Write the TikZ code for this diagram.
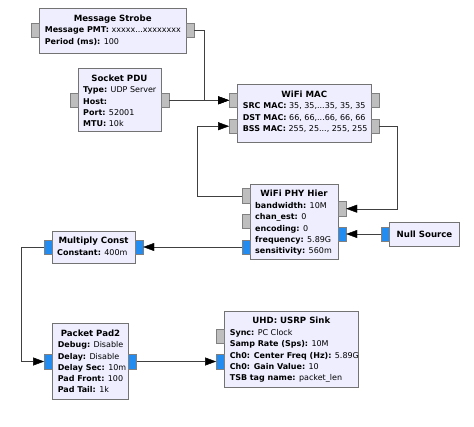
\documentclass[tikz,border=0pt]{standalone}
\usepackage{fontspec}
\setmainfont{DejaVu Sans}
\usetikzlibrary{arrows.meta,calc}
\definecolor{blockbg}{RGB}{238,238,255}
\definecolor{portgray}{RGB}{190,190,190}
\definecolor{portblue}{RGB}{35,140,240}
\tikzset{
	blk/.style={draw=black!55, fill=blockbg, anchor=north west, inner sep=0},
	port/.style={draw=black!50, fill=portgray, minimum width=8pt, minimum height=14.5pt, inner sep=0},
	bport/.style={port, fill=portblue},
	ttl/.style={font=\fontsize{8.6}{10}\selectfont\bfseries, anchor=base, inner sep=0},
	prm/.style={font=\fontsize{8}{10}\selectfont, anchor=base west, inner sep=0},
	wire/.style={draw=black!75, -{Triangle[length=11pt,width=8pt,color=black]}}
}
\def\tdots{...}
\def\blocktext(#1)#2#3{%
	\node[ttl] (#1t) at ($(#1.north)+(0,12.8)$) {#2};
	\foreach \ln [count=\i] in {#3}
		\node[prm] (#1p\i) at ($(#1.north west)+(5.3,{13.1+11.3*\i})$) {\ln};
}

\begin{document}
\begin{tikzpicture}[x=1pt, y=-1pt]
		%%%%% START %%%%%
		\useasboundingbox (0,0) rectangle (474,426);
		
		\node[blk, minimum width=146.4pt, minimum height=44.4pt] (strobe) at (39.3,8.3) {};
		\blocktext(strobe){Message Strobe}{{\textbf{Message PMT:} xxxxx\tdots xxxxxxxx},{\textbf{Period (ms):} 100}}
		
		\node[blk, minimum width=83pt, minimum height=62.7pt] (socket) at (77.7,68.3) {};
		\blocktext(socket){Socket PDU}{{\textbf{Type:} UDP Server},{\textbf{Host:}},{\textbf{Port:} 52001},{\textbf{MTU:} 10k}}
		
		\node[blk, minimum width=133.4pt, minimum height=57.4pt] (mac) at (237.3,84.3) {};
		\blocktext(mac){WiFi MAC}{{\textbf{SRC MAC:} 35, 35,\tdots 35, 35, 35},{\textbf{DST MAC:} 66, 66,\tdots 66, 66, 66},{\textbf{BSS MAC:} 255, 25\tdots, 255, 255}}
		
		\node[blk, minimum width=88.3pt, minimum height=75.3pt] (phy) at (249.7,184) {};
		\blocktext(phy){WiFi PHY Hier}{{\textbf{bandwidth:} 10M},{\textbf{chan\_est:} 0},{\textbf{encoding:} 0},{\textbf{frequency:} 5.89G},{\textbf{sensitivity:} 560m}}
		
		\node[blk, minimum width=70pt, minimum height=24.3pt] (null) at (389.3,221.7) {};
		\node[ttl] (nullt) at ($(null.center)+(0,3.1)$) {Null Source};
		
		\node[blk, minimum width=83.3pt, minimum height=32.3pt] (mult) at (51.7,231) {};
		\blocktext(mult){Multiply Const}{{\textbf{Constant:} 400m}}
		
		\node[blk, minimum width=76pt, minimum height=76pt] (pad) at (52.3,323.3) {};
		\blocktext(pad){Packet Pad2}{{\textbf{Debug:} Disable},{\textbf{Delay:} Disable},{\textbf{Delay Sec:} 10m},{\textbf{Pad Front:} 100},{\textbf{Pad Tail:} 1k}}
		
		\node[blk, minimum width=133.7pt, minimum height=76.3pt] (uhd) at (224.3,311) {};
		\blocktext(uhd){UHD: USRP Sink}{{\textbf{Sync:} PC Clock},{\textbf{Samp Rate (Sps):} 10M},{\textbf{Ch0: Center Freq (Hz):} 5.89G},{\textbf{Ch0: Gain Value:} 10},{\textbf{TSB tag name:} packet\_len}}
		
		% ports
		\node[port] (strobein) at (35.3,30) {};
		\node[port] (strobeout) at (189.7,30.3) {};
		\node[port] (socketin) at (73.7,100.3) {};
		\node[port] (socketout) at (164.7,100.3) {};
		\node[port] (macin1) at (233.3,100.3) {};
		\node[port] (macin2) at (233.3,126.2) {};
		\node[port] (macout1) at (374.7,100.3) {};
		\node[port] (macout2) at (374.7,126.2) {};
		\node[port] (phyin1) at (245.7,195.7) {};
		\node[port] (phyin2) at (245.7,221.3) {};
		\node[bport] (phyin3) at (245.7,247) {};
		\node[port] (phyout1) at (342,208.7) {};
		\node[bport] (phyout2) at (342,234) {};
		\node[bport] (nullout) at (385.3,234) {};
		\node[bport] (multin) at (47.7,247) {};
		\node[bport] (multout) at (139,247) {};
		\node[bport] (padin) at (48.3,361.5) {};
		\node[bport] (padout) at (132.3,361.5) {};
		\node[port] (uhdin1) at (220.3,336.2) {};
		\node[bport] (uhdin2) at (220.3,361.5) {};
		
		% connections
		\draw[wire] (strobeout.east) -- ++(10.3,0) |- (macin1.west);
		\draw[wire] (socketout.east) -- (macin1.west);
		\draw[wire] (phyin1.west) -- ++(-44.4,0) |- (macin2.west);
		\draw[wire] (macout2.east) -- ++(18.6,0) |- (phyout1.east);
		\draw[wire] (nullout.west) -- (phyout2.east);
		\draw[wire] (phyin3.west) -- (multout.east);
		\draw[wire] (multin.west) -- ++(-22.7,0) |- (padin.west);
		\draw[wire] (padout.east) -- (uhdin2.west);
		%%%%% END %%%%%
\end{tikzpicture}
\end{document}
